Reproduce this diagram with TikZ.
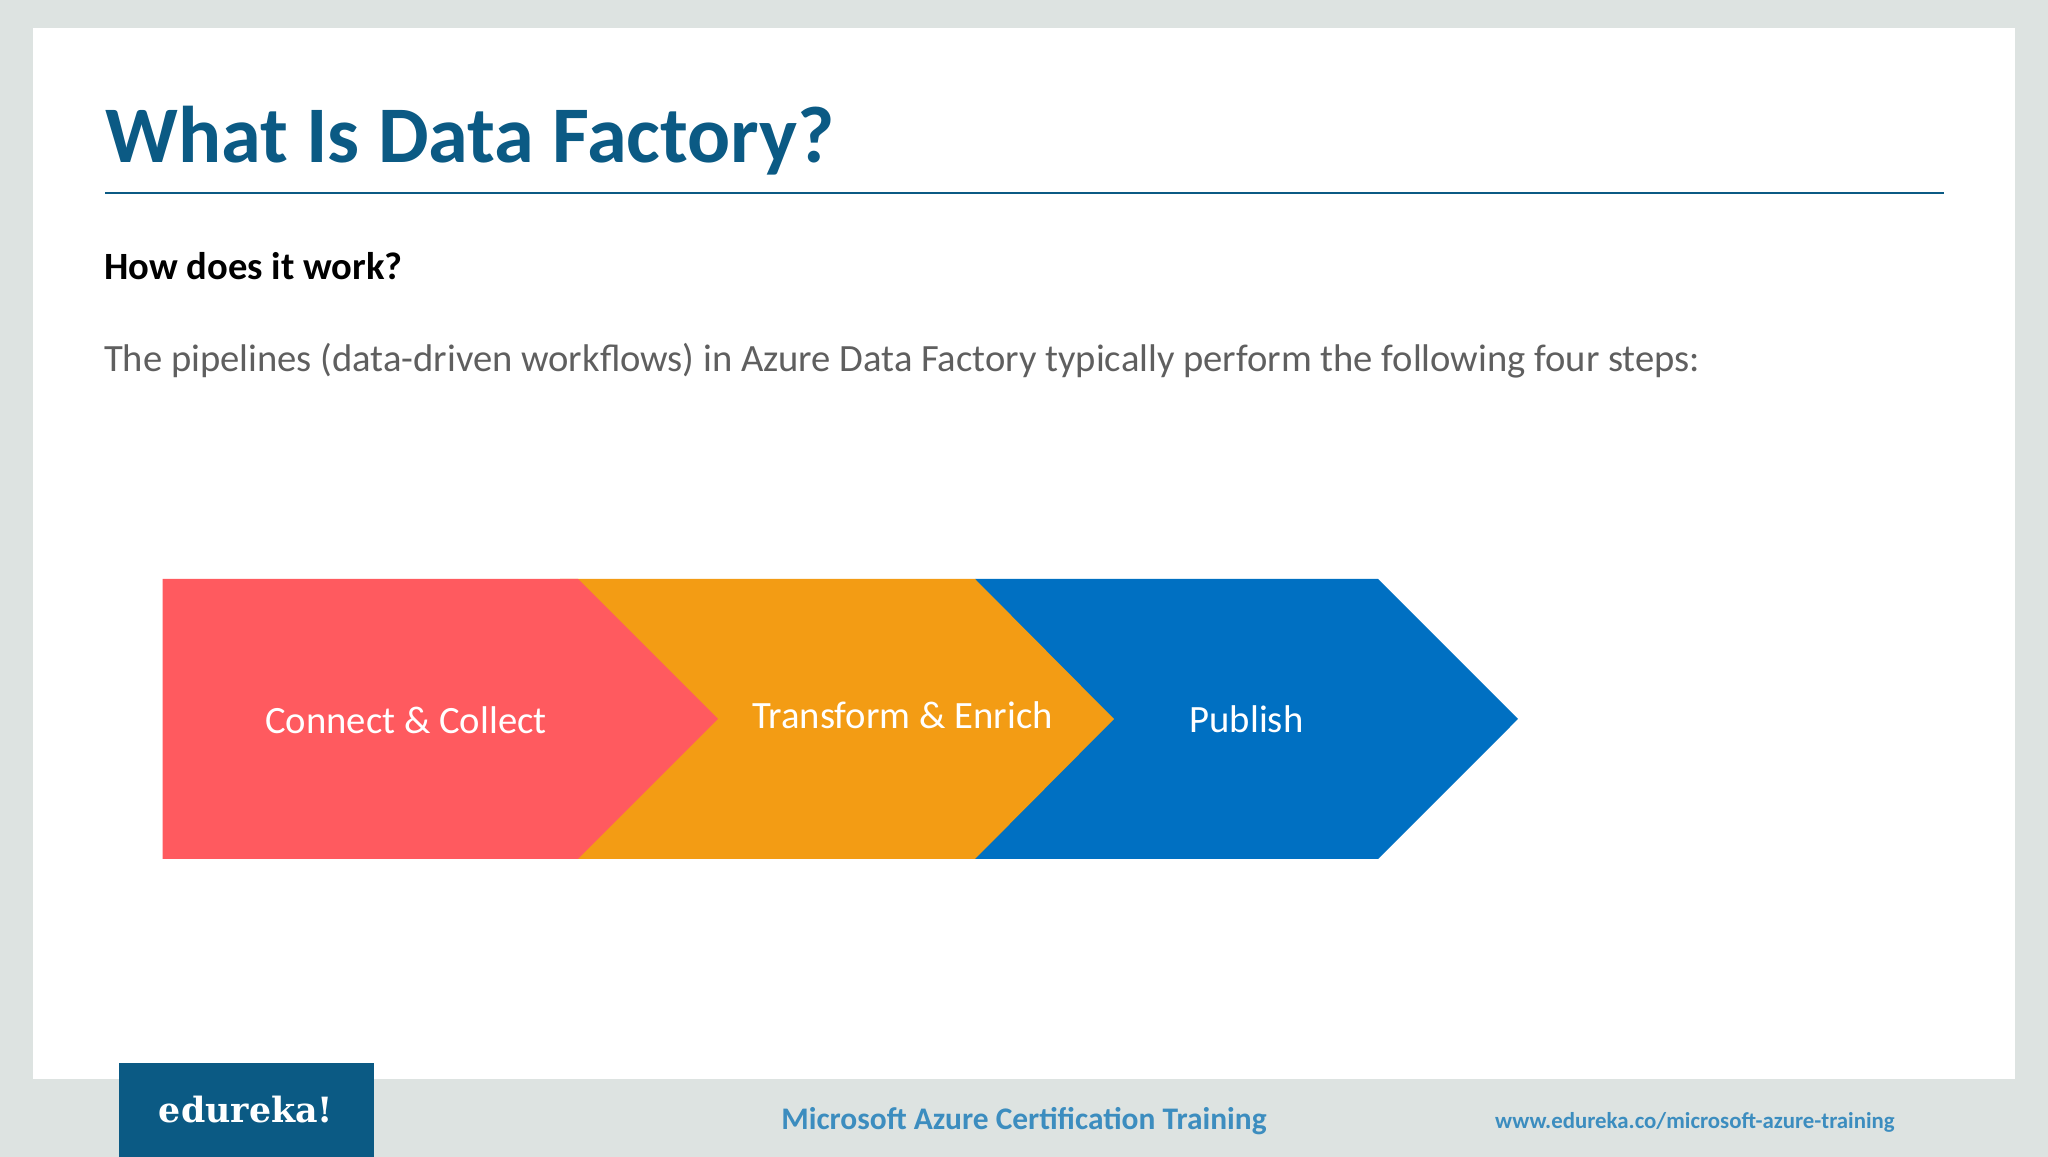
\documentclass[tikz,border=0pt]{standalone}
\usepackage{fontspec}
\setmainfont{Carlito}
\newfontfamily\logofont{DejaVu Serif}
\definecolor{slidegray}{HTML}{DDE3E1}
\definecolor{edublue}{HTML}{0B5A84}
\definecolor{footblue}{HTML}{3C8DBF}
\definecolor{textgray}{HTML}{5F5F5F}
\definecolor{stepred}{HTML}{FF5A5F}
\definecolor{steporange}{HTML}{F39C14}
\definecolor{stepblue}{HTML}{0070C2}
\tikzset{
    steplabel/.style={font=\fontsize{11}{13}\selectfont,text=white,inner sep=0pt},
    bodytext/.style={anchor=base west,inner sep=0pt,font=\fontsize{10.98}{13}\selectfont},
    foottext/.style={anchor=base,inner sep=0pt,text=footblue}
}
\begin{document}
\begin{tikzpicture}
\useasboundingbox (0,0) rectangle (20.48,11.57);
\fill[slidegray] (0,0) rectangle (20.48,11.57);
\fill[white] (0.33,0.78) rectangle (20.15,11.29);

% Heading
\node[anchor=base west,inner sep=0pt,font=\fontsize{22.85}{27}\selectfont\bfseries,text=edublue] (title) at (1.05,9.945) {What Is Data Factory?};
\coordinate (ruleL) at (1.05,9.64);
\coordinate (ruleR) at (19.44,9.64);
\draw[edublue,line width=0.55pt] (ruleL) -- (ruleR);
\node[bodytext,font=\fontsize{10.98}{13}\selectfont\bfseries,text=black] (question) at (1.035,8.77) {How does it work?};
\node[bodytext,text=textgray] (intro) at (1.035,7.85) {The pipelines (data-driven workflows) in Azure Data Factory typically perform the following four steps:};

% Steps, back to front
\fill[stepblue] (9.75,5.78) -- (13.78,5.78) -- (15.18,4.38) -- (13.78,2.98) -- (9.75,2.98) -- cycle;
\fill[steporange] (5.60,5.78) -- (9.75,5.78) -- (11.14,4.38) -- (9.75,2.98) -- (5.60,2.98) -- cycle;
\fill[stepred] (1.625,5.78) -- (5.78,5.78) -- (7.18,4.38) -- (5.78,2.98) -- (1.625,2.98) -- cycle;

\node[steplabel] (connect) at (4.06,4.37) {Connect \& Collect};
\node[steplabel] (transform) at (9.025,4.42) {Transform \& Enrich};
\node[steplabel] (publish) at (12.465,4.38) {Publish};

% Footer
\fill[edublue] (1.19,0) rectangle (3.74,0.94);
\node[anchor=base,inner sep=0pt,font=\logofont\bfseries\fontsize{9.9}{12}\selectfont,text=white] (logo) at (2.46,0.34) {edureka!};
\node[foottext,font=\fontsize{8.94}{11}\selectfont\bfseries] (course) at (10.24,0.27) {Microsoft Azure Certification Training};
\node[foottext,font=\fontsize{6.5}{8}\selectfont\bfseries] (site) at (16.95,0.28) {www.edureka.co/microsoft-azure-training};
\end{tikzpicture}
\end{document}
